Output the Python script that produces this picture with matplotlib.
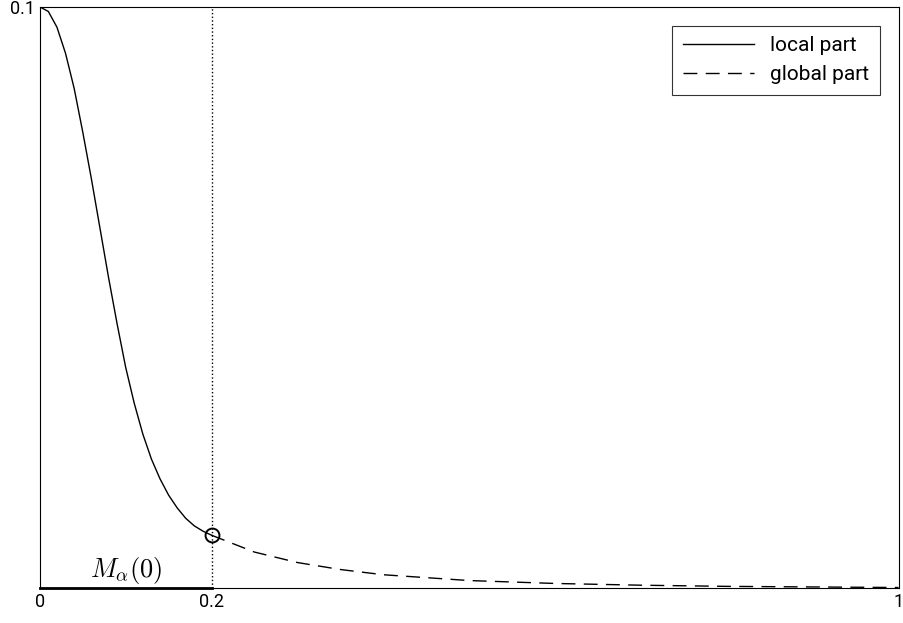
import matplotlib
matplotlib.use("Agg")
import matplotlib.pyplot as plt

local_x = [0, 0.01, 0.02, 0.03, 0.04, 0.05, 0.06, 0.07, 0.08, 0.09, 0.10, 0.11, 0.12, 0.13, 0.14, 0.15, 0.16, 0.17, 0.18, 0.19, 0.2]
local_y = [0.1, 0.0992, 0.0965, 0.092, 0.086, 0.0785, 0.0705, 0.062, 0.0535, 0.0455, 0.038, 0.0318, 0.0265, 0.0222, 0.0188, 0.016, 0.0138, 0.012, 0.0107, 0.0098, 0.0091]
global_x = [0.2, 0.25, 0.3, 0.35, 0.4, 0.5, 0.6, 0.7, 0.8, 0.9, 1.0]
global_y = [0.0091, 0.0062, 0.0044, 0.0032, 0.0023, 0.0013, 0.0008, 0.0005, 0.0003, 0.0002, 0.0001]
xticks = [0, 0.2, 1]
yticks = [0.1]

plt.rcParams['font.family'] = ['Roboto', 'DejaVu Sans']
plt.rcParams['mathtext.fontset'] = 'cm'
fig = plt.figure(figsize=(9.04, 6.23), dpi=100)
ax = fig.add_axes([0.044, 0.056, 0.950, 0.933])
ax.plot(local_x, local_y, 'k-', lw=1, label='local part')
ax.plot(global_x, global_y, 'k', lw=1, dashes=(10, 6), label='global part')
ax.axvline(0.2, color='k', ls=':', lw=1)
ax.plot([0.2], [global_y[0]], 'o', mfc='none', mec='k', ms=10, mew=1.4)
ax.plot([0, 0.2], [0, 0], 'k-', lw=2, clip_on=False)
ax.text(0.1, 0.0003, r'$M_\alpha(0)$', ha='center', va='bottom', fontsize=19)
ax.set_xlim(0, 1)
ax.set_ylim(0, 0.1)
ax.set_xticks(xticks)
ax.set_xticklabels(['0', '0.2', '1'])
ax.set_yticks(yticks)
ax.set_yticklabels(['0.1'])
ax.tick_params(direction='in', labelsize=13, length=0)
leg = ax.legend(loc='upper right', fontsize=15, fancybox=False, edgecolor='k',
                handlelength=3.4, borderaxespad=0.9, borderpad=0.5)
leg.get_frame().set_linewidth(0.8)
fig.savefig('out.png', dpi=100)
